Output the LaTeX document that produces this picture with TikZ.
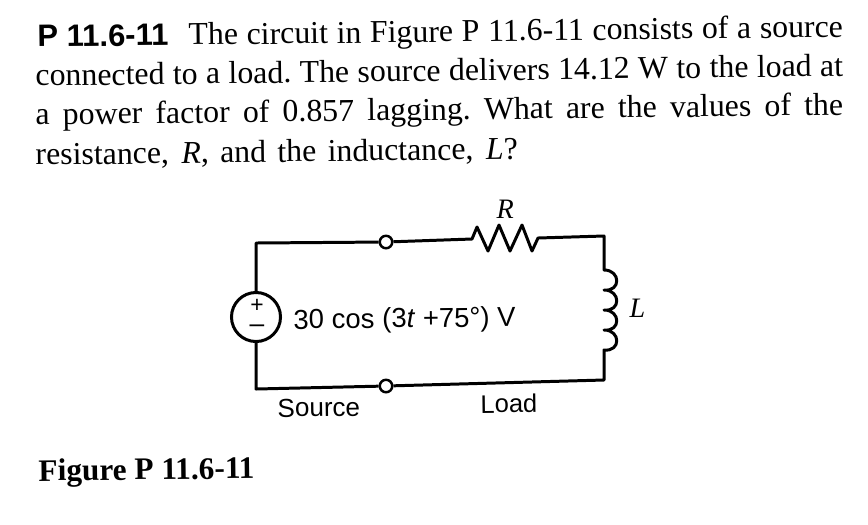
\documentclass[tikz,border=0pt]{standalone}
\usepackage{fontspec}
\setmainfont{Liberation Serif}
\newfontfamily\hv{Liberation Sans}
\newcommand\fitline[2]{\makebox[#1][s]{\spaceskip=0.2em plus 1em minus 0.1em\xspaceskip=\spaceskip #2}}
\tikzset{
 txt/.style={inner sep=0,anchor=base west,rotate=0.7,font=\fontsize{9.05}{12}\selectfont},
 wire/.style={line width=0.85pt,black,line join=round},
 term/.style={circle,draw=black,line width=0.7pt,fill=white,inner sep=0,minimum size=0.125cm},
 lab/.style={inner sep=0,anchor=base west,rotate=0.7,font=\hv\fontsize{7.4}{9}\selectfont},
 sym/.style={inner sep=0,anchor=base west,font=\fontsize{8}{10}\selectfont\itshape},
}
\begin{document}
\begin{tikzpicture}[x=0.01cm,y=-0.01cm]
\useasboundingbox (0,0) rectangle (868,524);
\node[txt,font=\hv\bfseries\fontsize{8.8}{12}\selectfont] (l0) at (37,47) {P 11.6-11};
\node[txt] (l1) at (188,45) {\fitline{6.54cm}{The circuit in Figure P 11.6-11 consists of a source}};
\node[txt] (l2) at (35,86) {\fitline{8.07cm}{connected to a load. The source delivers 14.12 W to the load at}};
\node[txt] (l3) at (35,125) {\fitline{8.07cm}{a power factor of 0.857 lagging. What are the values of the}};
\node[txt] (l4) at (35,165) {\fitline{4.82cm}{resistance, \textit{R}, and the inductance, \textit{L}?}};
\node[txt,font=\fontsize{8.9}{10}\selectfont\bfseries,rotate=0] (fig) at (38,481) {Figure P 11.6-11};
\node[sym] (rl) at (496,218) {R};
\node[sym] (ll) at (629,317) {L};
\node[lab,font=\hv\fontsize{7.8}{9}\selectfont] (v) at (293,329) {\fitline{2.22cm}{30 cos (3\textit{t} +75°) V}};
\node[lab] (s) at (277,417) {Source};
\node[lab,font=\hv\fontsize{7.25}{9}\selectfont] (d) at (480,413) {Load};
\node[circle,draw=black,line width=0.85pt,minimum size=0.49cm,inner sep=0,fill=white] (src) at (256,317) {};
\node[inner sep=0,font=\hv\fontsize{6.5}{7}\selectfont] (pl) at (257,306) {+};
\node[inner sep=0,font=\hv\fontsize{7.5}{7}\selectfont] (mi) at (257,329) {–};
\node[term] (t1) at (386,242) {};
\node[term] (t2) at (386,386) {};
\coordinate (tl) at (256,243);
\coordinate (rs) at (472,239);
\coordinate (r1) at (477,227);
\coordinate (r2) at (488,251);
\coordinate (r3) at (499,225);
\coordinate (r4) at (510,251);
\coordinate (r5) at (522,225);
\coordinate (r6) at (532,251);
\coordinate (re) at (538,238);
\coordinate (tr) at (604,236);
\coordinate (ls) at (604,270);
\coordinate (c1) at (604,290);
\coordinate (c2) at (604,310);
\coordinate (c3) at (604,330);
\coordinate (le) at (604,350);
\coordinate (br) at (604,380);
\coordinate (bl) at (256,389);
\draw[wire] (src) -- (tl) -- (t1) -- (rs) -- (r1) -- (r2) -- (r3) -- (r4) -- (r5) -- (r6) -- (re) -- (tr) -- (ls)
  .. controls (621,270) and (621,292) .. (c1)
  .. controls (621,290) and (621,312) .. (c2)
  .. controls (621,310) and (621,332) .. (c3)
  .. controls (621,330) and (621,352) .. (le)
  -- (br) -- (t2) -- (bl) -- (src);
\end{tikzpicture}
\end{document}
